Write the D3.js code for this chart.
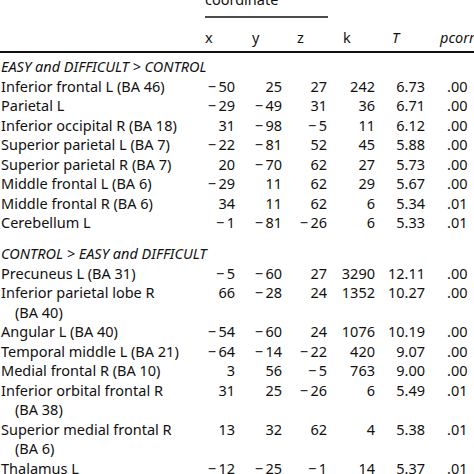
<!DOCTYPE html>
<html><head><meta charset="utf-8">
<script src="https://cdn.jsdelivr.net/npm/d3@7"></script>
<style>body{margin:0;background:#fff}svg{display:block}text{font-family:"Noto Sans",sans-serif;font-size:14.5px;fill:#111}</style>
</head><body><svg id="c" width="474" height="474"></svg>
<script>
const columns = ["x","y","z","k","T","pcorr"];
const sections = ["EASY and DIFFICULT > CONTROL","CONTROL > EASY and DIFFICULT"];
const regions1 = ["Inferior frontal L (BA 46)","Parietal L","Inferior occipital R (BA 18)","Superior parietal L (BA 7)","Superior parietal R (BA 7)","Middle frontal L (BA 6)","Middle frontal R (BA 6)","Cerebellum L"];
const values1 = [[-50,25,27,242,"6.73",".00"],[-29,-49,31,36,"6.71",".00"],[31,-98,-5,11,"6.12",".00"],[-22,-81,52,45,"5.88",".00"],[20,-70,62,27,"5.73",".00"],[-29,11,62,29,"5.67",".00"],[34,11,62,6,"5.34",".01"],[-1,-81,-26,6,"5.33",".01"]];
const regions2 = [["Precuneus L (BA 31)"],["Inferior parietal lobe R","(BA 40)"],["Angular L (BA 40)"],["Temporal middle L (BA 21)"],["Medial frontal R (BA 10)"],["Inferior orbital frontal R","(BA 38)"],["Superior medial frontal R","(BA 6)"],["Thalamus L"]];
const values2 = [[-5,-60,27,3290,"12.11",".00"],[66,-28,24,1352,"10.27",".00"],[-54,-60,24,1076,"10.19",".00"],[-64,-14,-22,420,"9.07",".00"],[3,56,-5,763,"9.00",".00"],[31,25,-26,6,"5.49",".01"],[13,32,62,4,"5.38",".01"],[-12,-25,-1,14,"5.37",".01"]];

const lines=[];
let idx=0;
lines.push({type:"sec",text:sections[0],i:idx++});
regions1.forEach((r,i)=>lines.push({type:"row",text:r,vals:values1[i],i:idx++}));
idx+=0.6;
lines.push({type:"sec",text:sections[1],i:idx++});
regions2.forEach((r,i)=>{lines.push({type:"row",text:r[0],vals:values2[i],i:idx++}); if(r[1])lines.push({type:"cont",text:r[1],i:idx++});});

const svg=d3.select("#c");
const y=d3.scaleLinear().domain([0,1]).range([67,86.5]);
const colRight=d3.scaleOrdinal().domain(columns).range([235,282,327,375,425,447]);
const colHead=d3.scaleOrdinal().domain(columns).range([205,252,297,343,392,440]);
const fmt=v=>typeof v==="number"?(v<0?"\u2212\u2009"+Math.abs(v):String(v)):v;

svg.append("text").attr("x",205).attr("y",5).text("coordinate");
svg.append("line").attr("x1",205).attr("x2",328).attr("y1",17).attr("y2",17).attr("stroke","#111").attr("stroke-width",1.5);
columns.forEach(c=>svg.append("text").attr("x",colHead(c)).attr("y",43).style("font-style",(c==="T"||c==="pcorr")?"italic":null).text(c));
svg.append("line").attr("x1",0).attr("x2",474).attr("y1",52).attr("y2",52).attr("stroke","#111").attr("stroke-width",2);

lines.forEach(l=>{
  const yy=y(l.i)+5;
  if(l.type==="sec") svg.append("text").attr("x",1).attr("y",yy).style("font-style","italic").text(l.text);
  else if(l.type==="row"){
    svg.append("text").attr("x",1).attr("y",yy).text(l.text);
    l.vals.forEach((v,j)=>{const c=columns[j];
      svg.append("text").attr("x",colRight(c)).attr("y",yy).attr("text-anchor",c==="pcorr"?"start":"end").text(fmt(v));});
  } else if(l.type==="cont") svg.append("text").attr("x",15).attr("y",yy).text(l.text);
});
</script></body></html>
